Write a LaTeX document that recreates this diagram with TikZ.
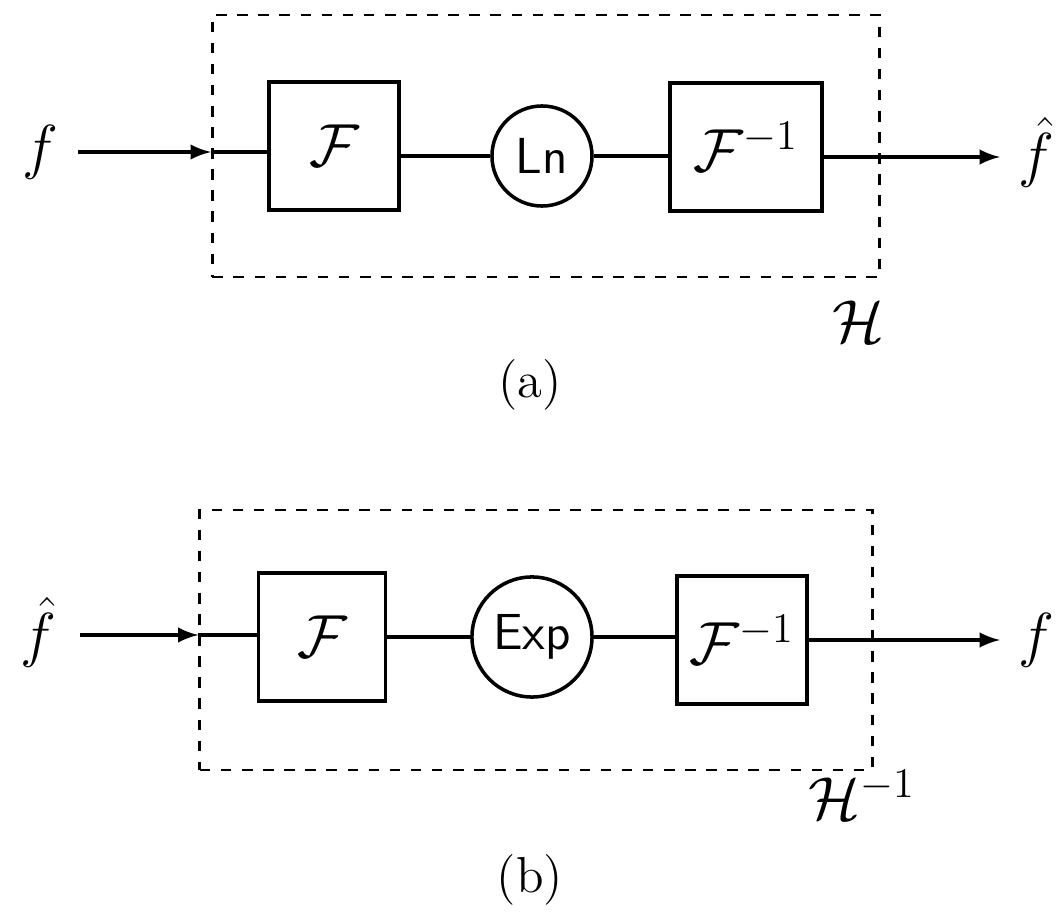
\documentclass[tikz,border=0pt]{standalone}
\begin{document}
\begin{tikzpicture}[x=0.01cm,y=-0.01cm,line width=1pt,
 blk/.style={draw,minimum width=1.3cm,minimum height=1.28cm,inner sep=0pt,font=\LARGE},
 circ/.style={draw,circle,minimum size=#1,inner sep=0pt,font=\Large\sffamily},
 dbox/.style={draw,dashed,line width=0.8pt},
 lbl/.style={font=\LARGE},
 arr/.style={-latex}]
\useasboundingbox (0,0) rectangle (1056,921);
% (a)
\node[dbox,minimum width=6.67cm,minimum height=2.62cm] (ha) at (546,146) {};
\node[blk] (fa) at (334,146) {$\mathcal{F}$};
\node[circ=1.0cm] (ln) at (542,156) {Ln};
\node[blk,minimum width=1.52cm] (fia) at (746,147) {$\mathcal{F}^{-1}$};
\node[lbl] (ina) at (40,152) {$f$};
\node[lbl] (outa) at (1036,152) {$\hat f$};
\coordinate (sa) at (78,152);
\coordinate (ea) at (1000,157);
\draw[arr] (sa) -- (ha.west |- sa);
\draw (ha.west |- sa) -- (fa.west |- sa);
\draw (fa.east |- ln) -- (ln.west);
\draw (ln.east) -- (fia.west |- ln);
\draw[arr] (fia.east |- ea) -- (ea);
\node[lbl] (ha-l) at (858,322) {$\mathcal{H}$};
\node[font=\Large] (capa) at (530,385) {(a)};
% (b)
\node[dbox,minimum width=6.72cm,minimum height=2.6cm] (hb) at (536,640) {};
\node[blk,minimum width=1.27cm] (fb) at (322,637) {$\mathcal{F}$};
\node[circ=1.2cm] (ex) at (532,637) {Exp};
\node[blk] (fib) at (742,640) {$\mathcal{F}^{-1}$};
\node[lbl] (inb) at (38,632) {$\hat f$};
\node[lbl] (outb) at (1036,640) {$f$};
\coordinate (sb) at (80,635);
\coordinate (eb) at (1000,640);
\draw[arr] (sb) -- (hb.west |- sb);
\draw (hb.west |- sb) -- (fb.west |- sb);
\draw (fb.east |- ex) -- (ex.west);
\draw (ex.east) -- (fib.west |- ex);
\draw[arr] (fib.east |- eb) -- (eb);
\node[lbl] (hb-l) at (862,795) {$\mathcal{H}^{-1}$};
\node[font=\Large] (capb) at (530,880) {(b)};
\end{tikzpicture}
\end{document}
